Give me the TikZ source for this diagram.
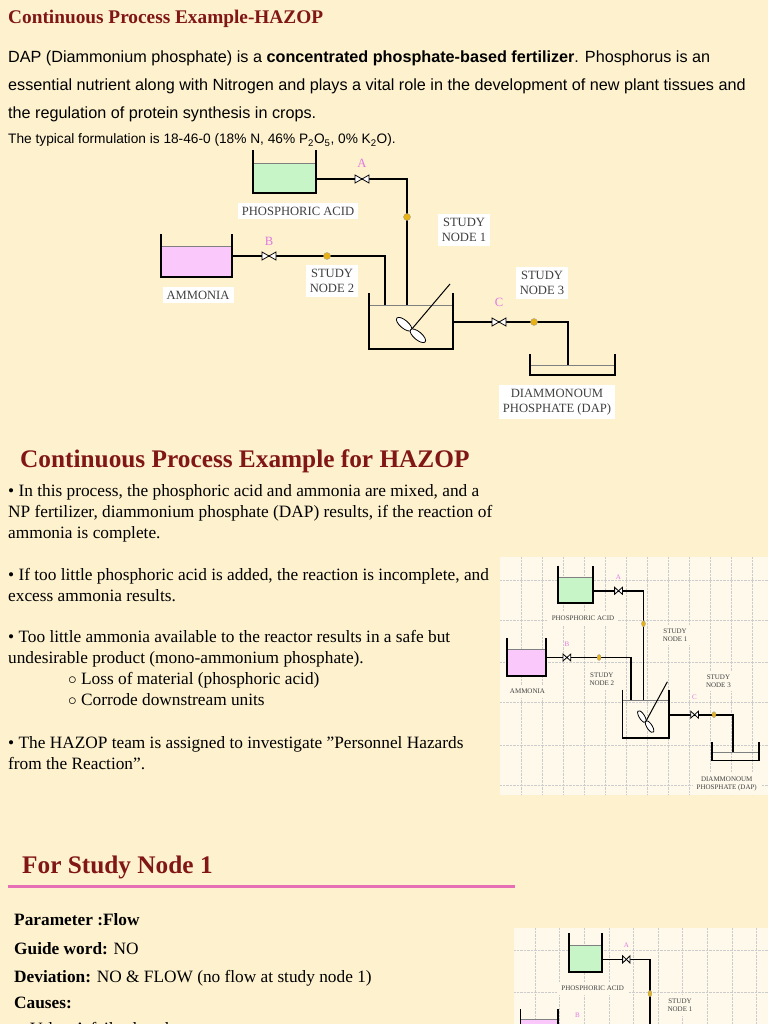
\documentclass[tikz,border=0pt]{standalone}
\usepackage{fontspec}
\setmainfont{Liberation Serif}
\newfontfamily\arial{Liberation Sans}
\definecolor{bgc}{RGB}{253,241,206}
\definecolor{dred}{RGB}{128,22,22}
\definecolor{greenliq}{RGB}{200,245,200}
\definecolor{pinkliq}{RGB}{250,200,250}
\definecolor{dotc}{RGB}{232,178,20}
\definecolor{lblpink}{RGB}{225,120,225}
\definecolor{hpink}{RGB}{230,110,180}
\tikzset{
  pipe/.style={line width=1.8pt, line join=miter},
  wall/.style={line width=1.8pt},
  valvetri/.style={fill=white, draw=black, line width=0.8pt},
  lbl/.style={fill=white, inner sep=4pt, align=center, text=black!75},
  para/.style={anchor=base west, inner sep=0pt, text=black},
  hdg/.style={anchor=base west, inner sep=0pt, text=dred, font=\bfseries},
}
\usetikzlibrary{calc}
% #1 name prefix, #2 font, #3 label fill
\newcommand\pidiagram[3]{%
  \fill[greenliq] (253,163) rectangle (316,193);
  \draw[black!50, line width=0.6pt] (253,163) -- (316,163);
  \draw[wall] (253,150) -- (253,193) -- (316,193) -- (316,150);
  \fill[pinkliq] (161,246) rectangle (232,277);
  \draw[black!50, line width=0.6pt] (161,246) -- (232,246);
  \draw[wall] (161,234) -- (161,277) -- (232,277) -- (232,234);
  \draw[black!50, line width=0.6pt] (369,305) -- (453,305);
  \draw[wall] (369,293) -- (369,349) -- (453,349) -- (453,293);
  \draw[black!50, line width=0.6pt] (530,365) -- (615,365);
  \draw[wall] (530,354) -- (530,375) -- (615,375) -- (615,354);
  \coordinate (#1tA) at (316,179);
  \coordinate (#1cA) at (407,179);
  \coordinate (#1rA) at (407,305);
  \coordinate (#1tB) at (232,256);
  \coordinate (#1cB) at (385,256);
  \coordinate (#1rB) at (385,305);
  \coordinate (#1rC) at (453,322);
  \coordinate (#1cC) at (568,322);
  \coordinate (#1dC) at (568,365);
  \draw[pipe] (#1tA) -- (#1cA) -- (#1rA);
  \draw[pipe] (#1tB) -- (#1cB) -- (#1rB);
  \draw[pipe] (#1rC) -- (#1cC) -- (#1dC);
  \foreach \vx/\vy/\vn in {362/179/vA,269/256/vB,499/322/vC}{
    \coordinate (#1\vn) at (\vx,\vy);
    \draw[valvetri] (\vx-7,\vy-4) -- (\vx,\vy) -- (\vx-7,\vy+4) -- cycle;
    \draw[valvetri] (\vx+7,\vy-4) -- (\vx,\vy) -- (\vx+7,\vy+4) -- cycle;
  }
  \foreach \dx/\dy/\dn in {407/217/d1,327/256/d2,534/322/d3}{
    \fill[dotc] (\dx,\dy) circle (3.5pt);
    \draw[black!40, line width=0.3pt] (\dx,\dy) circle (3.5pt);
  }
  \coordinate (#1imp) at (411,330);
  \coordinate (#1sh) at (450,284);
  \draw[line width=1pt] (#1sh) -- (#1imp);
  \draw[fill=white, line width=0.8pt, rotate around={-40:(#1imp)}] ($(#1imp)+(-9,0)$) ellipse (9.5 and 4);
  \draw[fill=white, line width=0.8pt, rotate around={-40:(#1imp)}] ($(#1imp)+(9,0)$) ellipse (9.5 and 4);
  \node[text=lblpink, font=#2] (#1lA) at (362,163) {A};
  \node[text=lblpink, font=#2] (#1lB) at (269,241) {B};
  \node[text=lblpink, font=#2] (#1lC) at (499,302) {C};
  \node[lbl, fill=#3, font=#2] (#1pa) at (298,211) {PHOSPHORIC ACID};
  \node[lbl, fill=#3, font=#2] (#1am) at (198,295) {AMMONIA};
  \node[lbl, fill=#3, font=#2] (#1n1) at (464,230) {STUDY\\NODE 1};
  \node[lbl, fill=#3, font=#2] (#1n2) at (332,281) {STUDY\\NODE 2};
  \node[lbl, fill=#3, font=#2] (#1n3) at (542,283) {STUDY\\NODE 3};
  \node[lbl, fill=#3, font=#2] (#1dap) at (557,402) {DIAMMONOUM\\PHOSPHATE (DAP)};
}
\begin{document}
\begin{tikzpicture}[x=1pt,y=-1pt]
\useasboundingbox (0,0) rectangle (768,1024);
\clip (0,0) rectangle (768,1024);
\fill[bgc] (0,0) rectangle (768,1024);
% --- section 1
\node[hdg, font=\bfseries\fontsize{19.3}{22}\selectfont] (t1) at (8,24) {Continuous Process Example-HAZOP};
\begin{scope}[every node/.style={para, font=\arial\fontsize{16.2}{19}\selectfont}]
\node (p1) at (8,63) {DAP (Diammonium phosphate) is a \textbf{concentrated phosphate-based fertilizer}. Phosphorus is an};
\node (p2) at (8,91) {essential nutrient along with Nitrogen and plays a vital role in the development of new plant tissues and};
\node (p3) at (8,119) {the regulation of protein synthesis in crops.};
\end{scope}
\node[para, font=\arial\fontsize{13.7}{15}\selectfont] (p4) at (8,144) {The typical formulation is 18-46-0 (18\% N, 46\% P\textsubscript{2}O\textsubscript{5}, 0\% K\textsubscript{2}O).};
\pidiagram{m}{\fontsize{12.6}{15}\selectfont}{white}
% --- section 2
\node[hdg, font=\bfseries\fontsize{25.3}{29}\selectfont] (t2) at (20,467) {Continuous Process Example for HAZOP};
\begin{scope}[every node/.style={para, font=\fontsize{17.3}{20}\selectfont}]
\node (b1) at (8,496) {• In this process, the phosphoric acid and ammonia are mixed, and a};
\node (b2) at (8,517) {NP fertilizer, diammonium phosphate (DAP) results, if the reaction of};
\node (b3) at (8,538) {ammonia is complete.};
\node (b4) at (8,580) {• If too little phosphoric acid is added, the reaction is incomplete, and};
\node (b5) at (8,601) {excess ammonia results.};
\node (b6) at (8,642) {• Too little ammonia available to the reactor results in a safe but};
\node (b7) at (8,663) {undesirable product (mono-ammonium phosphate).};
\node (b8) at (68,684) {$\circ$ Loss of material (phosphoric acid)};
\node (b9) at (68,705) {$\circ$ Corrode downstream units};
\node (b10) at (8,748) {• The HAZOP team is assigned to investigate \symbol{34}Personnel Hazards};
\node (b11) at (8,769) {from the Reaction\symbol{34}.};
\end{scope}
\begin{scope}
\clip (500,557) rectangle (768,795);
\fill[white!60!bgc] (500,557) rectangle (768,795);
\foreach \gx in {521,542,...,768} \draw[black!20, densely dotted] (\gx,557) -- (\gx,795);
\foreach \gy in {580,620,662,702,745,785} \draw[black!20, densely dotted] (500,\gy) -- (768,\gy);
\begin{scope}[shift={(417.6,435.8)}, xscale=0.555, yscale=0.866]
\pidiagram{s}{\fontsize{7}{8}\selectfont}{white!60!bgc}
\end{scope}
\end{scope}
% --- section 3
\node[hdg, font=\bfseries\fontsize{25.3}{29}\selectfont] (t3) at (22,873) {For Study Node 1};
\draw[hpink, line width=3pt] (8,886) -- (515,886);
\begin{scope}[every node/.style={para, font=\fontsize{17.3}{20}\selectfont}]
\node (q1) at (14,925) {\textbf{Parameter :Flow}};
\node (q2) at (14,954) {\textbf{Guide word:} NO};
\node (q3) at (14,982) {\textbf{Deviation:} NO \& FLOW (no flow at study node 1)};
\node (q4) at (14,1008) {\textbf{Causes:}};
\node (q5) at (30,1034) {Valve A fails closed};
\end{scope}
\begin{scope}
\clip (514,928) rectangle (768,1024);
\fill[white!60!bgc] (514,928) rectangle (768,1024);
\foreach \gx in {535,559.6,...,768} \draw[black!20, densely dotted] (\gx,928) -- (\gx,1024);
\foreach \gy in {950,992} \draw[black!20, densely dotted] (514,\gy) -- (768,\gy);
\begin{scope}[shift={(435.9,798.3)}, xscale=0.526, yscale=0.9]
\pidiagram{b}{\fontsize{7}{8}\selectfont}{white!60!bgc}
\end{scope}
\end{scope}
\end{tikzpicture}
\end{document}
